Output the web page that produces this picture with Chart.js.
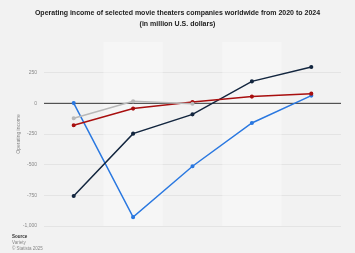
<!DOCTYPE html>
<html>
<head>
<meta charset="utf-8">
<script src="https://cdn.jsdelivr.net/npm/chart.js@4.4.1/dist/chart.umd.min.js"></script>
<style>
  body { margin: 0; background: #f2f2f2; font-family: "Liberation Sans", Arial, sans-serif; }
  #wrap { position: relative; width: 355px; height: 253px; }
  #title { position: absolute; left: 0; top: 7px; width: 355px; text-align: center; font-size: 7px; font-weight: bold; color: #222; line-height: 11px; }
  #source { position: absolute; left: 12px; top: 234px; font-size: 4.5px; color: #888; line-height: 6px; }
  #source b { color: #333; }
</style>
</head>
<body>
<div id="wrap">
  <canvas id="myChart" width="355" height="253"></canvas>
  <div id="title">Operating income of selected movie theaters companies worldwide from 2020 to 2024<br>(in million U.S. dollars)</div>
  <div id="source"><b>Source</b><br>Variety<br>© Statista 2025</div>
</div>
<script>
'use strict';

let years = ['2020', '2021', '2022', '2023', '2024'];
let navyValues = [-755, -247, -90, 179, 296];
let blueValues = [2, -928, -513, -160, 63];
let redValues = [-179, -43, 11, 55, 79];
let grayValues = [-122, 16, -3, null, null];
let yTicks = [-1000, -750, -500, -250, 0, 250];

// light bands behind every second year
let bandPlugin = {
  id: 'bands',
  beforeDatasetsDraw(chart) {
    let ctx = chart.ctx;
    let area = chart.chartArea;
    let x = chart.scales.x;
    let half = (x.getPixelForValue(1) - x.getPixelForValue(0)) / 2;
    ctx.save();
    ctx.fillStyle = 'rgba(255,255,255,0.35)';
    for (let i = 1; i < years.length; i += 2) {
      let c = x.getPixelForValue(i);
      ctx.fillRect(c - half, area.top, half * 2, area.bottom - area.top);
    }
    // zero line on top of the bands
    let y0 = chart.scales.y.getPixelForValue(0);
    ctx.strokeStyle = '#333333';
    ctx.lineWidth = 1;
    ctx.beginPath();
    ctx.moveTo(area.left, y0);
    ctx.lineTo(area.right, y0);
    ctx.stroke();
    ctx.restore();
  }
};

function line(label, data, color) {
  return {
    label: label,
    data: data,
    borderColor: color,
    backgroundColor: color,
    borderWidth: 1.5,
    pointRadius: 1.3,
    pointHoverRadius: 1.3,
    tension: 0,
    spanGaps: false
  };
}

let ctx = document.getElementById('myChart').getContext('2d');

let myChart = new Chart(ctx, {
  type: 'line',
  data: {
    labels: years,
    datasets: [
      line('Gray', grayValues, '#b8b8b8'),
      line('Red', redValues, '#a80f0f'),
      line('Navy', navyValues, '#13263f'),
      line('Blue', blueValues, '#2a78e0')
    ]
  },
  options: {
    responsive: false,
    animation: false,
    layout: { padding: { top: 42, right: 14, bottom: 27, left: 16 } },
    plugins: {
      legend: { display: false },
      tooltip: { enabled: false }
    },
    scales: {
      x: {
        display: false,
        offset: true
      },
      y: {
        min: -1000,
        max: 500,
        afterBuildTicks(scale) {
          scale.ticks = yTicks.concat([500]).map(v => ({ value: v }));
        },
        afterFit(scale) { scale.width = 28; },
        border: { display: false },
        grid: {
          drawTicks: false,
          color: c => (c.tick.value === 0 || c.tick.value === 500) ? 'rgba(0,0,0,0)' : '#e0e0e0',
          lineWidth: 0.8,
          borderDash: [3, 1]
        },
        ticks: {
          padding: 7,
          color: '#888888',
          font: { size: 5, family: 'Liberation Sans' },
          callback: v => v === 500 ? '' : v.toLocaleString('en-US')
        },
        title: {
          display: true,
          text: 'Operating income',
          color: '#888888',
          font: { size: 5, family: 'Liberation Sans' },
          padding: { top: 0, bottom: 0 }
        }
      }
    }
  },
  plugins: [bandPlugin]
});
</script>
</body>
</html>
